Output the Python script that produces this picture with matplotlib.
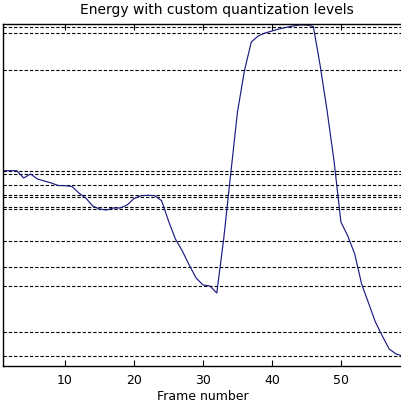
import matplotlib
matplotlib.use("Agg")
import matplotlib.pyplot as plt

# energy per frame (arbitrary units)
frames = list(range(1, 60))
energy = [
    19.53, 19.53, 19.53, 18.8, 19.2, 18.7, 18.5, 18.3, 18.05, 18.03,
    17.95, 17.3, 16.8, 16.0, 15.7, 15.6, 15.8, 15.8, 16.1, 16.75,
    17.03, 17.07, 17.03, 16.53, 14.5, 12.7, 11.5, 10.1, 8.8, 8.1,
    8.0, 7.3, 12.7, 19.1, 25.4, 29.5, 32.4, 33.0, 33.3, 33.5,
    33.7, 33.85, 34.0, 34.1, 34.1, 33.95, 30.0, 25.5, 20.5, 14.4,
    13.0, 11.2, 8.2, 6.3, 4.4, 3.0, 1.7, 1.2, 1.0,
]

# custom quantization levels
levels = [
    33.87, 33.27, 29.63, 19.47, 19.23, 18.07, 17.07, 16.87,
    15.93, 15.73, 12.5, 9.87, 8.0, 3.37, 0.97,
]

xticks = [10, 20, 30, 40, 50]

plt.rcParams["lines.scale_dashes"] = False

fig = plt.figure(figsize=(4.02, 4.02), dpi=100)
ax = fig.add_axes([3 / 402, 35 / 402, 400 / 402, 342 / 402])

# dashed line for every quantization level
for lev in levels:
    ax.axhline(lev, color="black", lw=0.8, linestyle=(0, (2.4, 1.4)))

ax.plot(frames, energy, color="#1c1c82", lw=0.85)

ax.set_xlim(1, 59)
ax.set_ylim(0, 34.2)
ax.set_xticks(xticks)
ax.set_yticks([])
ax.tick_params(axis="x", direction="in", top=True, length=4, width=0.8,
               labelsize=9, pad=5)
for s in ax.spines.values():
    s.set_linewidth(1.0)
ax.spines["right"].set_visible(False)

ax.set_xlabel("Frame number", fontsize=9, labelpad=2)
fig.text(0.54, 0.975, "Energy with custom quantization levels",
         ha="center", va="center", fontsize=10)

fig.savefig("out.png", dpi=100)
